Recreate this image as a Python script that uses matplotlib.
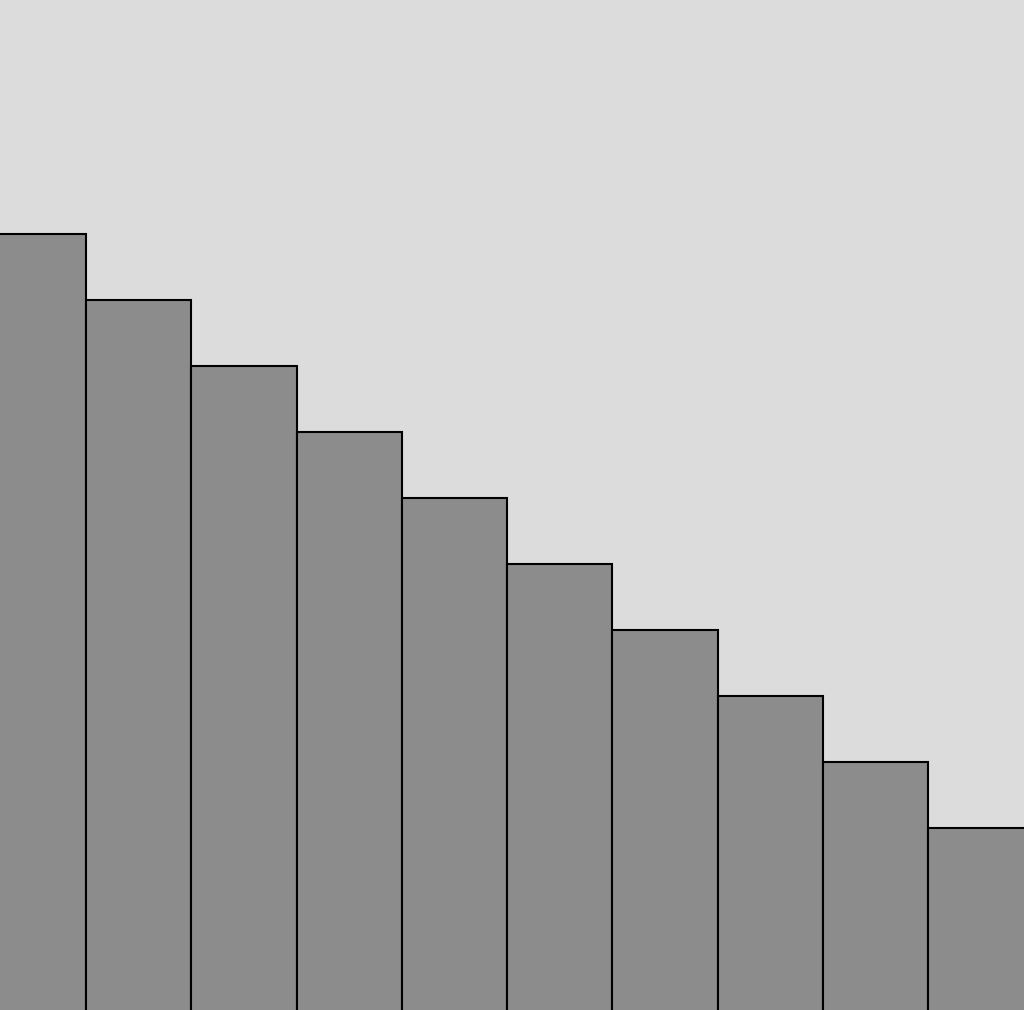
import numpy as np
import matplotlib
matplotlib.use("Agg")
import matplotlib.pyplot as plt

# bar heights, one step per bar
positions = [0, 1, 2, 3, 4, 5, 6, 7, 8, 9]
heights = [12, 11, 10, 9, 8, 7, 6, 5, 4, 3]

fig = plt.figure(figsize=(10.24, 10.10), dpi=100)
fig.patch.set_facecolor('#dcdcdc')
ax = fig.add_axes([0, 0, 1, 1])
ax.set_facecolor('#dcdcdc')

ax.bar(positions, heights, width=1.0, align='edge',
       color='#8c8c8c', edgecolor='black', linewidth=1.5)

# bar width about 105.25 px, first bar starts off the left edge
bw = 105.25
ax.set_xlim((bw - 86) / bw, (bw - 86) / bw + 1024 / bw)
ax.set_ylim(16 / 66, 16 / 66 + 1010 / 66)
ax.axis('off')

fig.savefig('out.png', dpi=100, facecolor=fig.get_facecolor())
